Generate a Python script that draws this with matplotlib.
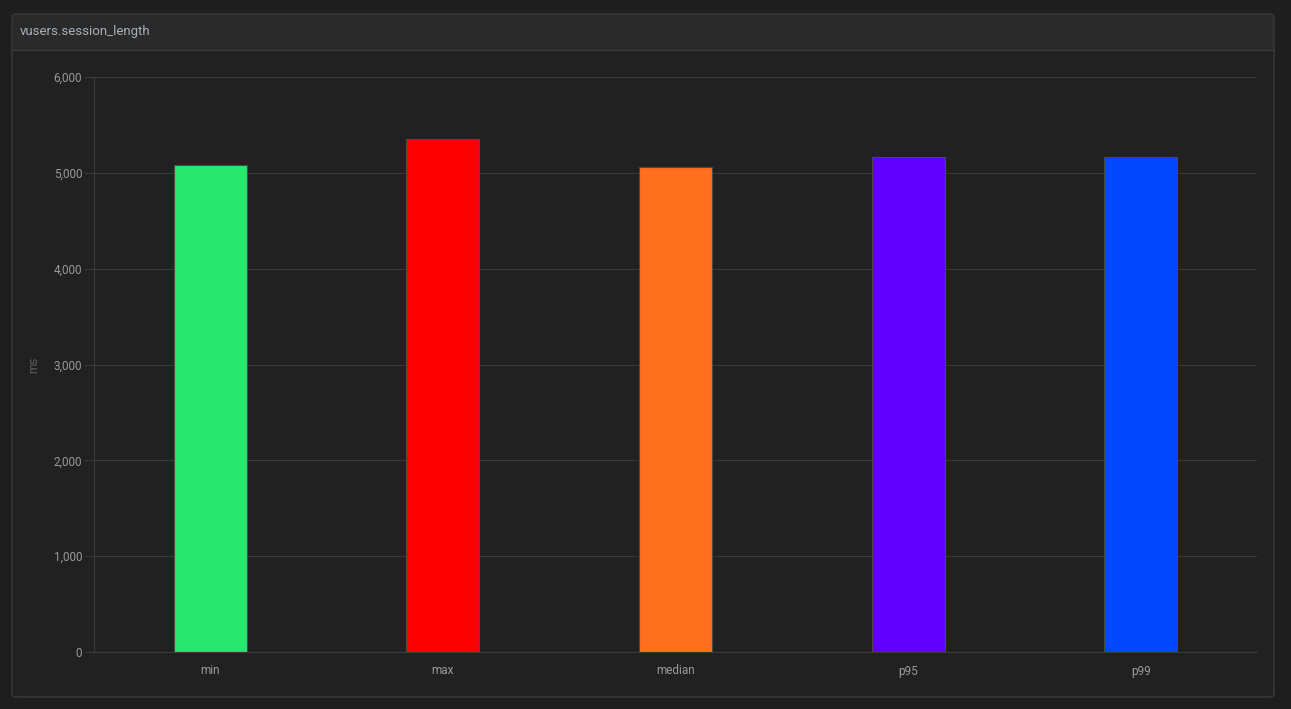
import matplotlib
matplotlib.use("Agg")
import matplotlib.pyplot as plt
from matplotlib.patches import FancyBboxPatch, Rectangle
from matplotlib.lines import Line2D
from matplotlib.ticker import FuncFormatter, MultipleLocator

plt.rcParams["font.family"] = ["Roboto", "DejaVu Sans"]

categories = ["min", "max", "median", "p95", "p99"]
values = [5083, 5352, 5060, 5165, 5162]
colors = ["#26e86f", "#ff0000", "#ff6f1e", "#6200ff", "#0048ff"]
title = "vusers.session_length"
y_label = "ms"

W, H = 1291, 709
fig = plt.figure(figsize=(W / 100, H / 100), dpi=100)
fig.patch.set_facecolor("#1e1e1e")

def fx(px):
    return px / W

def fy(py):
    return 1 - py / H

# panel
panel = FancyBboxPatch((fx(12), fy(697)), fx(1274) - fx(12), fy(14) - fy(697),
                       boxstyle="round,pad=0,rounding_size=0.004",
                       transform=fig.transFigure, facecolor="#212121",
                       edgecolor="#3a3a3a", linewidth=1.0, zorder=-3)
fig.patches.append(panel)
header = Rectangle((fx(13), fy(50)), fx(1273) - fx(13), fy(15) - fy(50),
                   transform=fig.transFigure, facecolor="#2a2a2a",
                   edgecolor="none", zorder=-2)
fig.patches.append(header)
fig.lines.append(Line2D([fx(12), fx(1274)], [fy(50), fy(50)],
                        transform=fig.transFigure, color="#3a3a3a", lw=1.0, zorder=-1))
fig.text(fx(20), fy(32), title, color="#a8b0b8", fontsize=9.5,
         va="center", ha="left")

ax = fig.add_axes([fx(94), fy(652), fx(1257) - fx(94), fy(77) - fy(652)])
ax.set_zorder(5)
ax.set_facecolor("none")
x = list(range(len(categories)))
ax.bar(x, values, width=0.314, color=colors, edgecolor="#4a4a4a", linewidth=0.8, zorder=3)
ax.set_xlim(-0.5, len(categories) - 0.5)
ax.set_ylim(0, 6000)
ax.yaxis.set_major_locator(MultipleLocator(1000))
ax.yaxis.set_major_formatter(FuncFormatter(lambda v, p: f"{int(v):,}"))
ax.set_xticks(x)
ax.set_xticklabels(categories)
ax.grid(axis="y", color="#3a3a3a", linewidth=0.8, zorder=0)
ax.set_axisbelow(True)
for s in ["top", "right"]:
    ax.spines[s].set_visible(False)
ax.spines["left"].set_color("#3a3a3a")
ax.spines["bottom"].set_color("#3a3a3a")
ax.tick_params(axis="y", colors="#3a3a3a", length=7, width=0.8, labelcolor="#9a9a9a",
               labelsize=8.5, pad=1.5)
ax.tick_params(axis="x", length=0, labelcolor="#9a9a9a", labelsize=8.5, pad=9)
ax.set_ylabel(y_label, color="#5e5e5e", fontsize=8.5)
ax.yaxis.set_label_coords((40 - 94) / (1257 - 94), 0.5)

fig.savefig("out.png", dpi=100, facecolor=fig.get_facecolor())
